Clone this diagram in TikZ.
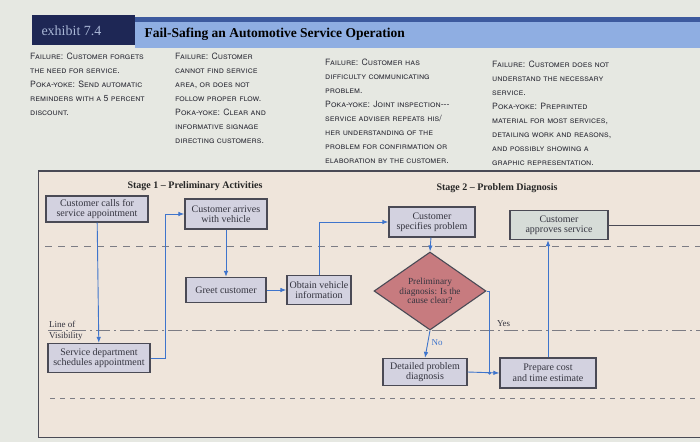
\documentclass[tikz,border=0pt]{standalone}
\usepackage{fontspec}
\setmainfont{Liberation Serif}
\newfontfamily\capsfont{TeX Gyre Heros}
\usetikzlibrary{arrows.meta,calc,positioning,shapes.geometric}
\definecolor{ink}{HTML}{34343F}
\definecolor{frame}{HTML}{4A4A55}
\definecolor{pagebg}{HTML}{E6E8E2}
\definecolor{chartbg}{HTML}{EFE5DB}
\definecolor{cardfill}{HTML}{D3D2E0}
\definecolor{greyfill}{HTML}{D6DCD8}
\definecolor{rosefill}{HTML}{C77B7F}
\definecolor{flowblue}{HTML}{3E74CC}
\definecolor{navy}{HTML}{1E2755}
\definecolor{barblue}{HTML}{8FAEE2}
\definecolor{bardark}{HTML}{3D5A9E}
\definecolor{exhtext}{HTML}{A9B7D6}
\definecolor{dashgray}{HTML}{7C7C84}
\tikzset{
  flowarr/.style={-{Latex[length=6pt,width=4.5pt]},line width=0.9pt,color=flowblue},
  flowline/.style={line width=0.9pt,color=flowblue},
  stepcard/.style={draw=frame,fill=cardfill,line width=1.2pt,align=center,inner sep=2pt,font=\fontsize{10}{10.5}\selectfont\color{ink}},
  approvecard/.style={stepcard,fill=greyfill},
  askcard/.style={diamond,aspect=1.47,draw=frame,fill=rosefill,line width=1.1pt,align=center,inner sep=0pt,minimum width=112pt,minimum height=78pt,font=\fontsize{9.3}{9.6}\selectfont\color{ink}},
  failtext/.style={anchor=north west,align=left,inner sep=0pt,font=\capsfont\fontsize{8.7}{14}\selectfont\color{ink!90!black}},
  stagelabel/.style={font=\bfseries\fontsize{10}{10}\selectfont\color{black!85}},
  interline/.style={dashgray,line width=0.9pt,dash pattern=on 7pt off 6pt},
  visline/.style={dashgray,line width=0.9pt,dash pattern=on 14pt off 4pt on 2pt off 4pt},
  backline/.style={dashgray,line width=0.9pt,dash pattern=on 5pt off 5pt}
}
\begin{document}
\begin{tikzpicture}[x=1pt,y=-1pt]
  \useasboundingbox (0,0) rectangle (700,442);
  \fill[pagebg] (0,0) rectangle (700,442);

  % title bar
  \fill[navy] (32,15) rectangle (135,45);
  \fill[barblue] (135,19) rectangle (700,48);
  \fill[bardark] (135,17) rectangle (700,22);
  \node[font=\fontsize{14}{14}\selectfont\color{exhtext},anchor=west] (exh) at (38,31) {exhibit 7.4};
  \node[font=\bfseries\fontsize{13.5}{14}\selectfont,anchor=west] (title) at (141,34) {Fail-Safing an Automotive Service Operation};

  % failures and poka-yokes
  \node[failtext] (fail1) at (30,53) {\textsc{Failure: Customer forgets}\\\textsc{the need for service.}\\\textsc{Poka-yoke: Send automatic}\\\textsc{reminders with a 5 percent}\\\textsc{discount.}};
  \node[failtext] (fail2) at (175,53) {\textsc{Failure: Customer}\\\textsc{cannot find service}\\\textsc{area, or does not}\\\textsc{follow proper flow.}\\\textsc{Poka-yoke: Clear and}\\\textsc{informative signage}\\\textsc{directing customers.}};
  \node[failtext] (fail3) at (325,59) {\textsc{Failure: Customer has}\\\textsc{difficulty communicating}\\\textsc{problem.}\\\textsc{Poka-yoke: Joint inspection---}\\\textsc{service adviser repeats his/}\\\textsc{her understanding of the}\\\textsc{problem for confirmation or}\\\textsc{elaboration by the customer.}};
  \node[failtext] (fail4) at (492,61) {\textsc{Failure: Customer does not}\\\textsc{understand the necessary}\\\textsc{service.}\\\textsc{Poka-yoke: Preprinted}\\\textsc{material for most services,}\\\textsc{detailing work and reasons,}\\\textsc{and possibly showing a}\\\textsc{graphic representation.}};

  % blueprint panel
  \fill[chartbg] (38,171) rectangle (700,437);
  \draw[frame,line width=0.8pt] (700,437) -- (38,437) -- (38,171);
  \draw[frame,line width=1.6pt] (38,171) -- (700,171);
  \node[stagelabel] (stage1) at (195,186) {Stage 1 -- Preliminary Activities};
  \node[stagelabel] (stage2) at (497,188) {Stage 2 -- Problem Diagnosis};

  \draw[interline] (45,246) -- (700,246);
  \draw[visline] (48,330) -- (700,330);
  \draw[backline] (50,398) -- (700,398);
  \node[font=\fontsize{9}{9}\selectfont\color{ink},anchor=south west,inner sep=1pt] (lov1) at (48,329) {Line of};
  \node[font=\fontsize{9}{9}\selectfont\color{ink},anchor=north west,inner sep=1pt] (lov2) at (48,331) {Visibility};

  % steps
  \node[stepcard,minimum width=102pt,minimum height=26pt] (calls) at (97,209) {Customer calls for\\service appointment};
  \node[stepcard,minimum width=82pt,minimum height=30pt] (arrives) at (226,214) {Customer arrives\\with vehicle};
  \node[stepcard,minimum width=86pt,minimum height=30pt] (specifies) at (432,222) {Customer\\specifies problem};
  \node[approvecard,minimum width=98pt,minimum height=29pt] (approves) at (559,225) {Customer\\approves service};
  \node[stepcard,minimum width=80pt,minimum height=25pt] (greet) at (226,290) {Greet customer};
  \node[stepcard,minimum width=64pt,minimum height=29pt] (obtain) at (319,290) {Obtain vehicle\\information};
  \node[askcard] (clear) at (430,291) {Preliminary\\diagnosis: Is the\\cause clear?};
  \node[stepcard,minimum width=102pt,minimum height=29pt] (schedules) at (99,358) {Service department\\schedules appointment};
  \node[stepcard,minimum width=84pt,minimum height=27pt] (detailed) at (425,372) {Detailed problem\\diagnosis};
  \node[stepcard,minimum width=96pt,minimum height=30pt] (prepare) at (548,373) {Prepare cost\\and time estimate};

  % flows
  \draw[flowarr] (calls) -- (schedules);
  \draw[flowarr] (schedules.east) -- ++(15,0) |- (arrives.west);
  \draw[flowarr] (arrives) -- (greet);
  \draw[flowarr] (greet) -- (obtain);
  \draw[flowarr] (obtain.north) |- (specifies.west);
  \draw[flowarr] (specifies) -- (clear.north);
  \draw[flowarr] (clear.south) -- node[right,font=\fontsize{9}{9}\selectfont\color{ink},pos=0.45] (no) {No} (detailed.north);
  \coordinate (join) at ($(clear.east |- prepare.west)+(3,0)$);
  \draw[flowline] (clear.east) -- ++(3,0) -- (join);
  \draw[flowarr] (detailed.east) -- (prepare.west);
  \fill[flowblue] (join) circle (1.8pt);
  \node[font=\fontsize{9}{9}\selectfont\color{ink},anchor=south west] (yes) at ($(join)+(4,-43)$) {Yes};
  \draw[flowarr] (prepare.north) -- (prepare.north |- approves.south);
  \coordinate (onward) at (700,225);
  \draw[frame,line width=1pt] (approves.east) -- (onward);
\end{tikzpicture}
\end{document}
